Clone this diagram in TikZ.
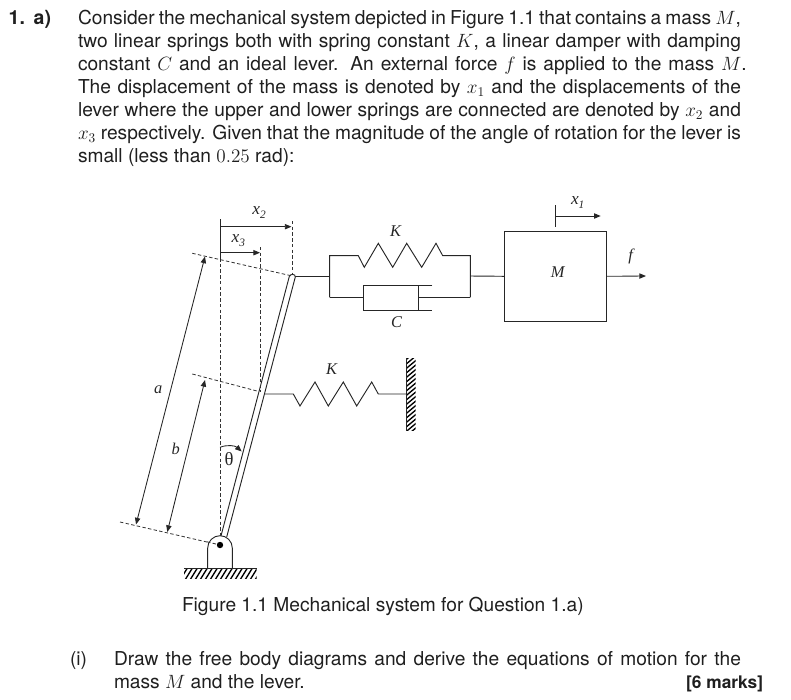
\documentclass[tikz,border=0pt]{standalone}
\usepackage{fontspec}
\setmainfont{TeX Gyre Heros}
\newfontfamily\figfont{Liberation Serif}
\usetikzlibrary{arrows.meta}
\newcommand{\figsub}[2]{{\figfont\itshape\fontsize{13pt}{14pt}\selectfont #1\raisebox{-0.45ex}{\fontsize{8.5pt}{9pt}\selectfont #2}}}
\tikzset{
  x=0.75pt,y=-0.75pt,
  txt/.style={anchor=base west,inner sep=0pt,outer sep=0pt,font=\fontsize{14.38pt}{17pt}\selectfont,text=black!88},
  btxt/.style={txt,font=\fontsize{14.6pt}{17pt}\selectfont\bfseries},
  lab/.style={inner sep=0pt,outer sep=0pt,font=\figfont\itshape\fontsize{12.3pt}{13pt}\selectfont,text=black!85},
  mech/.style={draw=black!85,line width=0.7pt,line join=miter},
  dashln/.style={draw=black!80,line width=0.6pt,dash pattern=on 2.6pt off 1.7pt},
  dimln/.style={draw=black!85,line width=0.65pt,-{Triangle[length=5pt,width=4pt]}},
  dimb/.style={draw=black!85,line width=0.65pt,{Triangle[length=5pt,width=4pt]}-{Triangle[length=5pt,width=4pt]}},
  hatch/.style={draw=black,line width=1pt},
}
\begin{document}
\begin{tikzpicture}
\useasboundingbox (0,0) rectangle (791,699);
% ---- text
\node[btxt] (qn) at (8.7,24.5) {1.\hspace{0.45em}a)};
\node[txt] (l1) at (78,24.5) {\makebox[497.2pt][s]{Consider the mechanical system depicted in Figure 1.1 that contains a mass $M$,}};
\node[txt] (l2) at (78,47.5) {\makebox[497.2pt][s]{two linear springs both with spring constant $K$, a linear damper with damping}};
\node[txt] (l3) at (78,70.5) {\makebox[501.5pt][s]{constant $C$ and an ideal lever. An external force $f$ is applied to the mass $M$.}};
\node[txt] (l4) at (78,93.5) {\makebox[497.2pt][s]{The displacement of the mass is denoted by $x_1$ and the displacements of the}};
\node[txt] (l5) at (78,116.5) {\makebox[497.2pt][s]{lever where the upper and lower springs are connected are denoted by $x_2$ and}};
\node[txt] (l6) at (78,139.5) {\makebox[497.2pt][s]{$x_3$ respectively. Given that the magnitude of the angle of rotation for the lever is}};
\node[txt] (l7) at (78,162.5) {small (less than $0.25$ rad):};
\node[txt] (cap) at (182,611) {Figure 1.1 Mechanical system for Question 1.a)};
\node[txt] (i) at (70,665) {(i)};
\node[txt] (q1) at (114,665) {\makebox[470.2pt][s]{Draw the free body diagrams and derive the equations of motion for the}};
\node[txt] (q2) at (114,688) {mass $M$ and the lever.};
\node[btxt,anchor=base east,font=\fontsize{13pt}{15pt}\selectfont\bfseries] (marks) at (763,688) {[6 marks]};
% ---- named points
\coordinate (pin) at (220,545);
\coordinate (tip) at (292.3,276);
\coordinate (uL) at (329.7,276);
\coordinate (uR) at (470.3,276);
\coordinate (dL) at (329.7,297.3);
\coordinate (dR) at (470.3,297.3);
\coordinate (sL) at (329.7,255.7);
\coordinate (sR) at (470.3,255.7);
% ---- mass
\node[mech,draw,minimum width=76.5pt,minimum height=67.5pt,inner sep=0pt,outer sep=0pt] (mass) at (555.3,276.3) {};
\node[lab] (Mlab) at (557.7,271.7) {M};
\coordinate (fend) at (646,276);
\draw[dimln] (mass.east) -- (fend);
\node[lab] (flab) at (630.7,256.7) {f};
\coordinate (t1) at (555.7,205); \coordinate (t2) at (555.7,227.3);
\draw[mech] (t1) -- (t2);
\coordinate (x1s) at (555.7,216); \coordinate (x1e) at (600.7,216);
\draw[dimln] (x1s) -- (x1e);
\node[lab] (x1lab) at (577.7,202.8) {\figsub{x}{1}};
% ---- upper spring and damper
\draw[mech] (tip) -- (uL);
\draw[mech] (uR) -- (mass.west);
\draw[mech] (dL) |- (sL) -- (358.3,255.7) -- (364.3,267.3) -- (378.3,243.3) -- (392.7,267.3) -- (406.7,243.3) -- (421.7,267.3) -- (436,243.3) -- (442.7,255.7) -- (sR) -- (dR);
\draw[mech] (dL) -- (363.3,297.3);
\draw[mech] (432.3,285) -- (363.3,285) -- (363.3,310) -- (432.3,310);
\draw[mech] (418.3,285) -- (418.3,310);
\draw[mech] (418.3,297.3) -- (dR);
\node[lab] (K1) at (395.7,230.7) {K};
\node[lab] (Clab) at (396.7,321.7) {C};
% ---- lower spring and wall
\coordinate (wallA) at (406.7,358.3); \coordinate (wallB) at (406.7,430.7);
\begin{scope}
\clip (406.7,358.3) rectangle (415.7,430.7);
\foreach \y in {356,360.5,...,440} \draw[hatch] (405,\y) -- (417,\y-10);
\end{scope}
\draw[mech,line width=0.9pt] (wallA) -- (wallB);
\coordinate (ls) at (265,394);
\draw[mech] (ls) -- (293.3,394) -- (300,406) -- (315,382) -- (328.3,406) -- (343.3,382) -- (356.7,406) -- (371.7,382) -- (378.3,394) -- (406.7,394);
\node[lab] (K2) at (331.7,369) {K};
% ---- lever
\draw[mech,fill=white] (220.7,537) -- (289.3,276.5) .. controls (290.3,273.6) and (295.6,273.6) .. (295.3,277) -- (226.7,537);
% ---- dashed guides
\draw[dashln] (292,221) -- (292,274);
\draw[dashln] (260.7,247) -- (260.7,392);
\draw[dashln] (220,258) -- (pin);
\draw[dashln] (192.3,253.3) -- (tip);
\draw[dashln] (192.3,374) -- (257,391);
\draw[dashln] (120,522) -- (pin);
% ---- displacement arrows
\coordinate (o1) at (220,219.3); \coordinate (o2) at (220,262);
\draw[mech] (o1) -- (o2);
\coordinate (x2s) at (220,226.7); \coordinate (x2e) at (291.5,226.7);
\draw[dimln] (x2s) -- (x2e);
\coordinate (x3s) at (220,252.7); \coordinate (x3e) at (260,252.7);
\draw[dimln] (x3s) -- (x3e);
\node[lab] (x2lab) at (259,212.8) {\figsub{x}{2}};
\node[lab] (x3lab) at (238.3,240.5) {\figsub{x}{3}};
% ---- a, b dimensions
\coordinate (aT) at (205,256.5); \coordinate (aB) at (136,524.5);
\coordinate (bT) at (205,380); \coordinate (bB) at (167.3,532);
\draw[dimb] (aB) -- (aT);
\draw[dimb] (bB) -- (bT);
\node[lab] (alab) at (158.3,390) {a};
\node[lab] (blab) at (175.7,449.3) {b};
% ---- angle
\coordinate (thS) at (220,447.3); \coordinate (thE) at (241.7,451.5);
\draw[dimln] (thS) .. controls (227,444.5) and (235,445.5) .. (thE);
\node[lab,font=\figfont\fontsize{14pt}{15pt}\selectfont] (thlab) at (229,459.3) {θ};
% ---- pivot and ground
\draw[mech,fill=white] (207.7,568.3) -- (207.7,548) arc[start angle=180,end angle=360,radius=12.3] -- (232.3,568.3);
\draw[dashln] (207,541.8) -- (pin);
\fill[black] (pin) circle[radius=3.2];
\begin{scope}
\clip (184,568.3) rectangle (256.7,578.5);
\foreach \x in {180,185,...,265} \draw[hatch] (\x,580) -- (\x+8,567);
\end{scope}
\coordinate (g1) at (184,568.3); \coordinate (g2) at (256.7,568.3);
\draw[mech,line width=0.9pt] (g1) -- (g2);
\end{tikzpicture}
\end{document}
